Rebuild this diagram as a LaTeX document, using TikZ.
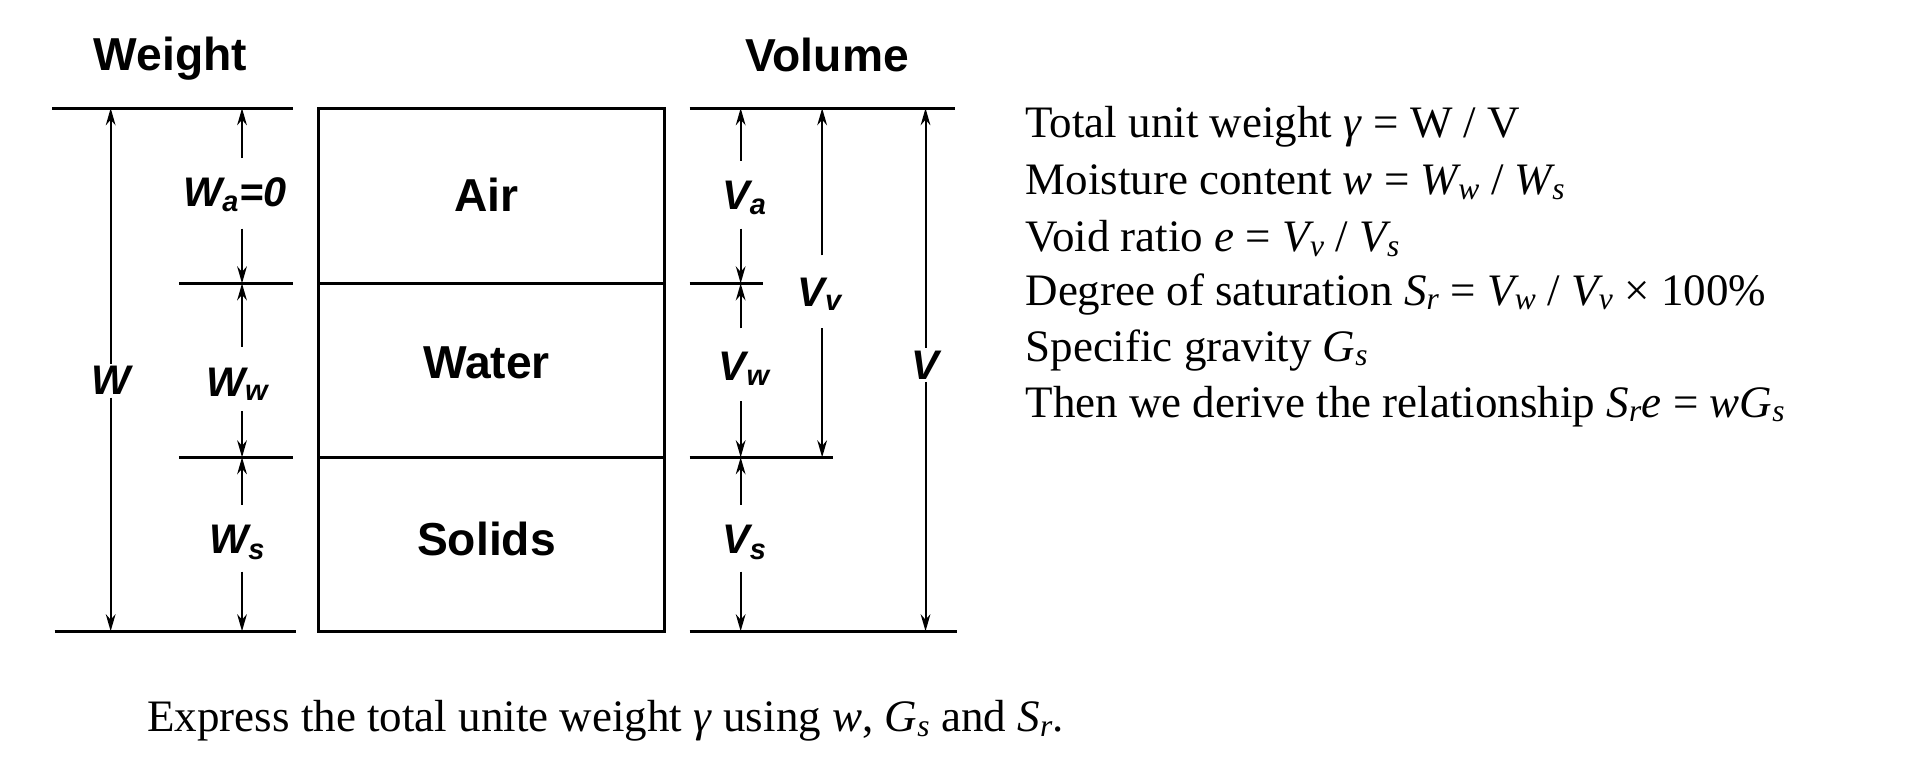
\documentclass[tikz,border=0pt]{standalone}
\usepackage{fontspec}
\setmainfont{Liberation Serif}
\newfontfamily\hv{Liberation Sans}
\usetikzlibrary{arrows.meta}
\begin{document}
\begin{tikzpicture}[x=1pt,y=-1pt,
  ln/.style={line width=2.4pt},
  ar/.style={-{Stealth[length=14pt,width=8pt]},line width=1.6pt},
  lab/.style={font=\hv\bfseries\itshape\fontsize{34}{36}\selectfont,inner sep=2pt},
  hd/.style={font=\hv\bfseries\fontsize{38}{40}\selectfont},
  tx/.style={font=\fontsize{37}{40}\selectfont,anchor=west,inner sep=0pt}]
\useasboundingbox (0,0) rectangle (1568,626);
% box
\draw[ln] (262,89) rectangle (546,519);
\draw[ln] (262,233) -- (546,233);
\draw[ln] (262,376) -- (546,376);
\node[hd] (air) at (400,160) {Air};
\node[hd] (water) at (400,298) {Water};
\node[hd] (solids) at (400,443) {Solids};
\node[hd] (wt) at (140,48) {Weight};
\node[hd] (vol) at (680,45) {Volume};
% left lines
\draw[ln] (43,89) -- (241,89);
\draw[ln] (147,233) -- (241,233);
\draw[ln] (147,376) -- (241,376);
\draw[ln] (45,519) -- (243,519);
\coordinate (lt) at (91,89); \coordinate (lb) at (91,519);
\node[lab] (W) at (91,313) {W};
\draw[ar] (W.north) -- (lt); \draw[ar] (W.south) -- (lb);
\node[lab] (Wa) at (193,160) {W\textsubscript{a}=0};
\node[lab] (Ww) at (195,316) {W\textsubscript{w}};
\node[lab] (Ws) at (195,446) {W\textsubscript{s}};
\coordinate (a1) at (199,89); \coordinate (a2) at (199,233);
\coordinate (a3) at (199,376); \coordinate (a4) at (199,519);
\draw[ar] (199,130) -- (a1); \draw[ar] (199,188) -- (a2);
\draw[ar] (199,285) -- (a2); \draw[ar] (199,338) -- (a3);
\draw[ar] (199,415) -- (a3); \draw[ar] (199,470) -- (a4);
% right lines
\draw[ln] (567,89) -- (785,89);
\draw[ln] (567,233) -- (627,233);
\draw[ln] (567,376) -- (685,376);
\draw[ln] (567,519) -- (787,519);
\node[lab] (Va) at (612,163) {V\textsubscript{a}};
\node[lab] (Vw) at (612,303) {V\textsubscript{w}};
\node[lab] (Vs) at (612,446) {V\textsubscript{s}};
\coordinate (b1) at (609,89); \coordinate (b2) at (609,233);
\coordinate (b3) at (609,376); \coordinate (b4) at (609,519);
\draw[ar] (609,132) -- (b1); \draw[ar] (609,188) -- (b2);
\draw[ar] (609,270) -- (b2); \draw[ar] (609,330) -- (b3);
\draw[ar] (609,415) -- (b3); \draw[ar] (609,470) -- (b4);
\node[lab] (Vv) at (674,242) {V\textsubscript{v}};
\coordinate (c1) at (676,89); \coordinate (c2) at (676,376);
\draw[ar] (676,210) -- (c1); \draw[ar] (676,270) -- (c2);
\node[lab] (V) at (761,300) {V};
\coordinate (d1) at (761,89); \coordinate (d2) at (761,519);
\draw[ar] (V.north) -- (d1); \draw[ar] (V.south) -- (d2);
% text
\node[tx] (t1) at (843,104) {Total unit weight \textit{γ} = W / V};
\node[tx] (t2) at (843,150) {Moisture content \textit{w} = \textit{W\textsubscript{w}} / \textit{W\textsubscript{s}}};
\node[tx] (t3) at (843,196) {Void ratio \textit{e} = \textit{V\textsubscript{v}} / \textit{V\textsubscript{s}}};
\node[tx] (t4) at (843,242) {Degree of saturation \textit{S\textsubscript{r}} = \textit{V\textsubscript{w}} / \textit{V\textsubscript{v}} × 100\%};
\node[tx] (t5) at (843,288) {Specific gravity \textit{G\textsubscript{s}}};
\node[tx] (t6) at (843,334) {Then we derive the relationship \textit{S\textsubscript{r}e} = \textit{wG\textsubscript{s}}};
\node[tx] (t7) at (121,593) {Express the total unite weight \textit{γ} using \textit{w}, \textit{G\textsubscript{s}} and \textit{S\textsubscript{r}}.};
\end{tikzpicture}
\end{document}
